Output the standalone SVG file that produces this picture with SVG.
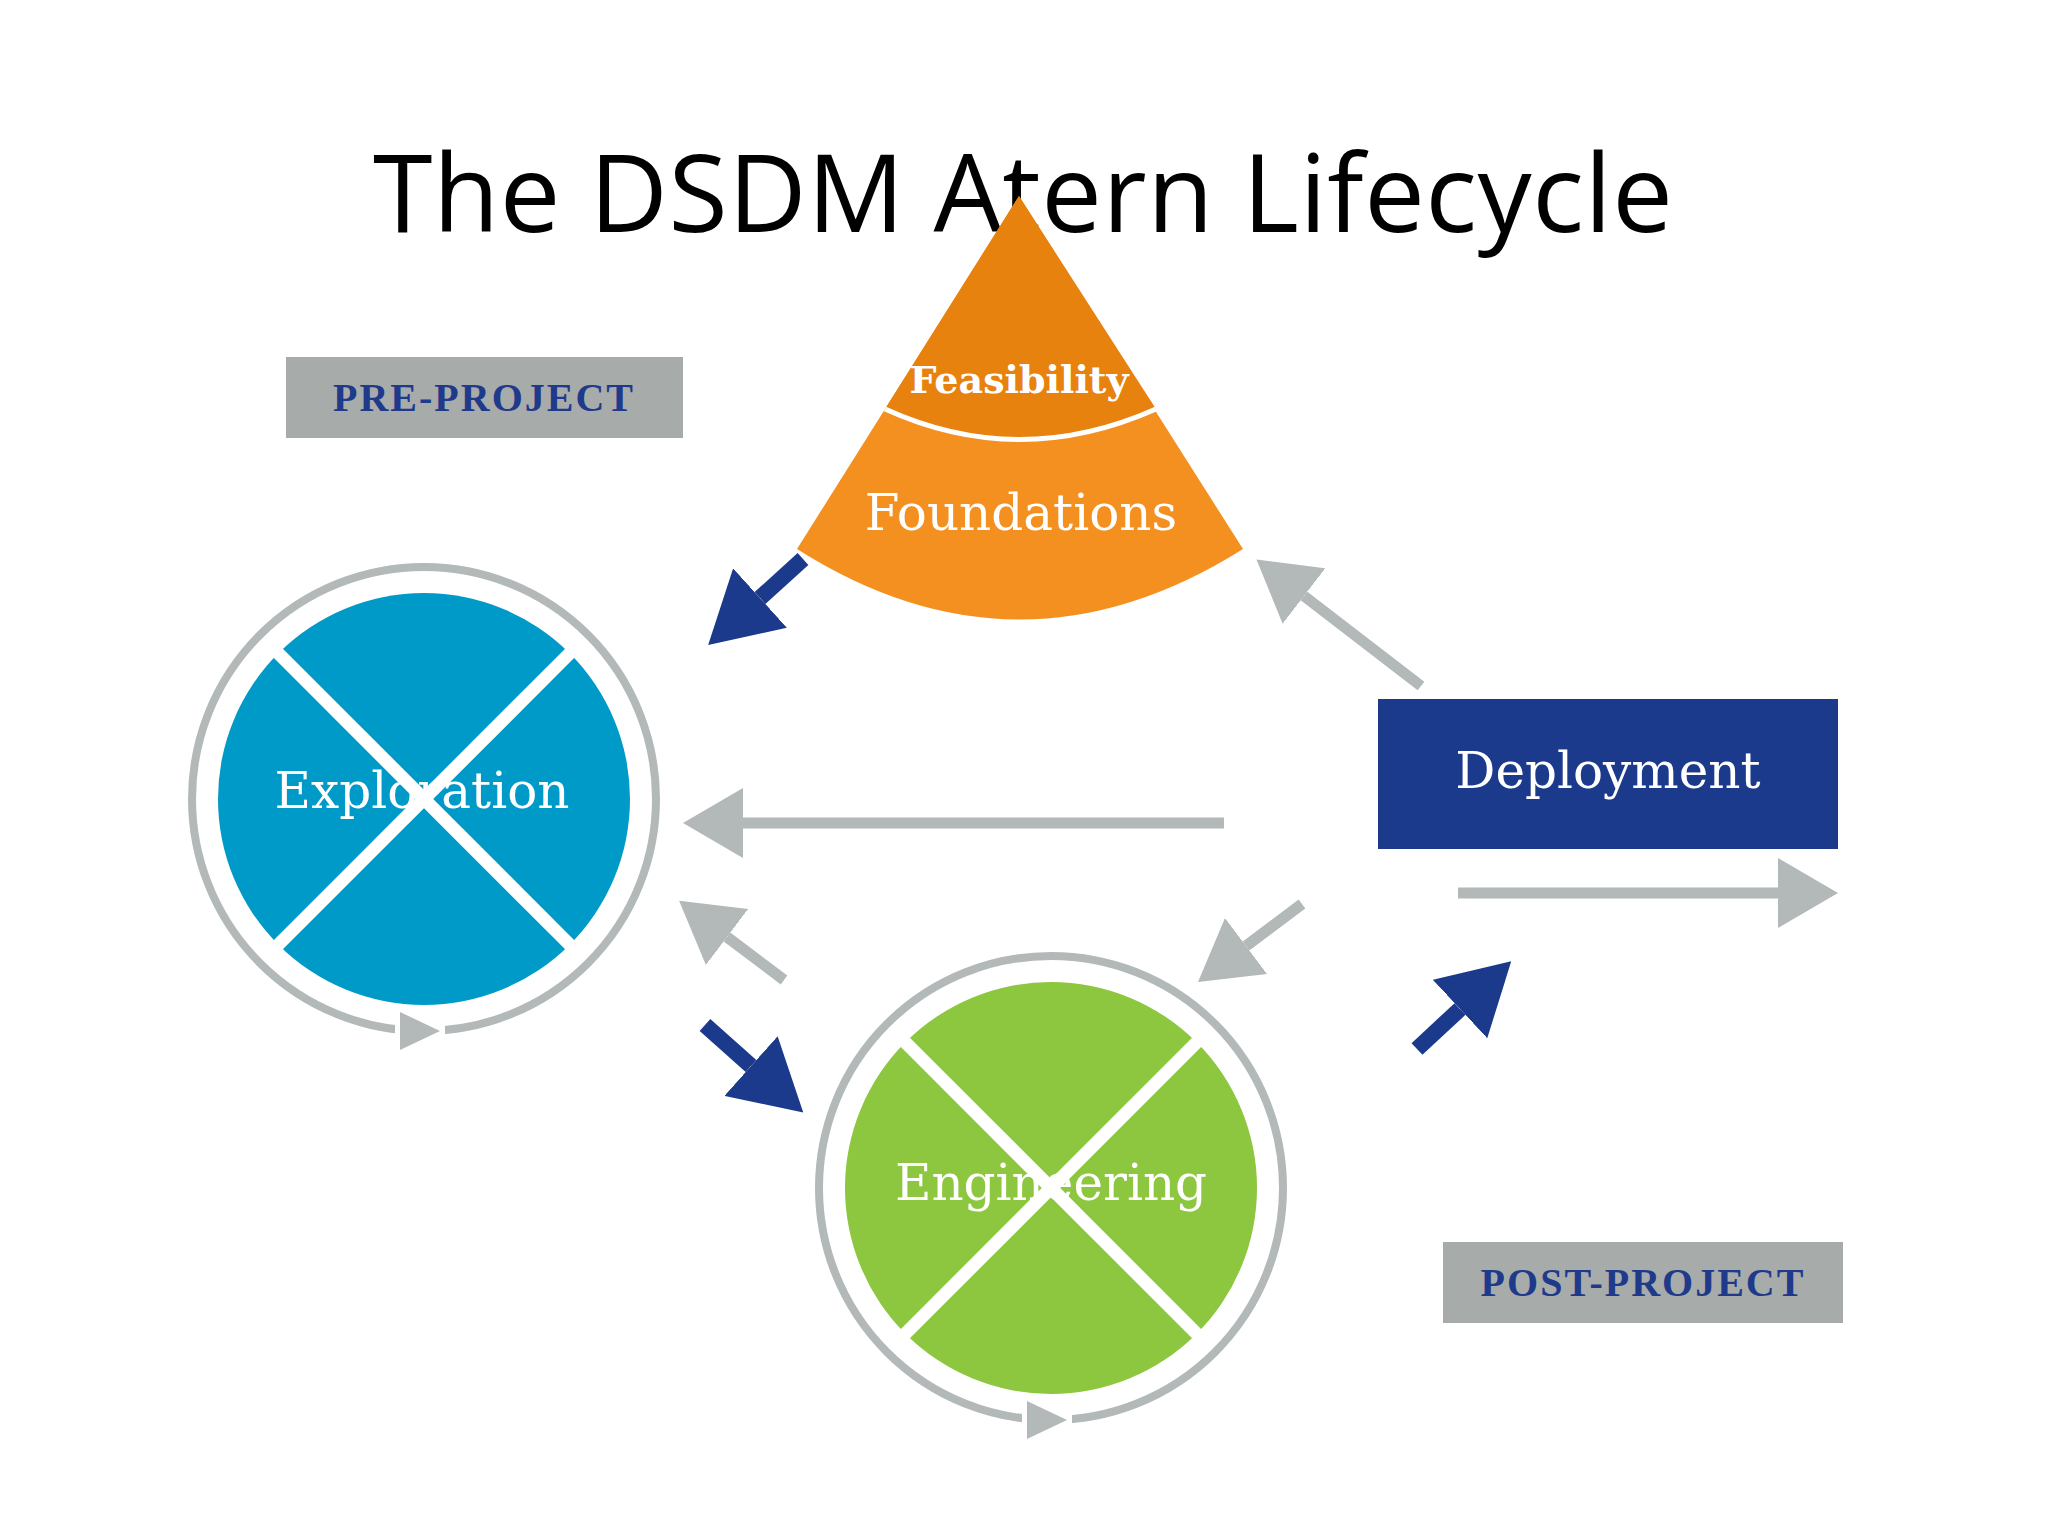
<svg xmlns="http://www.w3.org/2000/svg" width="2048" height="1536" viewBox="0 0 2048 1536">
<style>
.lbl{font-family:"DejaVu Serif",serif;fill:#fff;text-anchor:middle}
.tag{font-family:"Liberation Serif",serif;fill:#1f3a8a;font-weight:bold;text-anchor:middle;font-size:40px;letter-spacing:2px}
.ring{fill:none;stroke:#b3b8b8;stroke-width:8}
.cross{stroke:#fff;stroke-width:13}
.blue{stroke:#1b3a8c;stroke-width:16;fill:none}
.gray{stroke:#b3b8b8;stroke-width:11;fill:none}
</style>
<defs>
<marker id="hb" markerUnits="userSpaceOnUse" viewBox="0 0 70 80" refX="0" refY="40" markerWidth="70" markerHeight="80" orient="auto"><path d="M0,0 L70,40 L0,80 Z" fill="#1b3a8c"/></marker>
<marker id="hg" markerUnits="userSpaceOnUse" viewBox="0 0 60 70" refX="0" refY="35" markerWidth="60" markerHeight="70" orient="auto"><path d="M0,0 L60,35 L0,70 Z" fill="#b3b8b8"/></marker>
</defs>
<rect width="2048" height="1536" fill="#fff"/>
<g id="title"><text x="1023" y="232" font-family="Open Sans,sans-serif" font-size="108" text-anchor="middle" textLength="1300" fill="#000">The DSDM Atern Lifecycle</text></g>
<g id="pre"><rect x="286" y="357" width="397" height="81" fill="#a7acab"/><text class="tag" x="484" y="411">PRE-PROJECT</text></g>
<g id="post"><rect x="1443" y="1242" width="400" height="81" fill="#a7acab"/><text class="tag" x="1643" y="1296">POST-PROJECT</text></g>
<g id="foundations">
<path d="M1019,196 L1243,549 Q1019,690 797,549 Z" fill="#f39020"/>
<path d="M1019,196 L1156,409 Q1019,470 885,409 Z" fill="#e8820e"/>
<path d="M885,409 Q1019,470 1156,409" fill="none" stroke="#fff" stroke-width="5"/>
<text class="lbl" x="1019" y="393" font-size="38" font-weight="bold" font-family="Liberation Serif,serif">Feasibility</text>
<text class="lbl" x="1021" y="530" font-size="50">Foundations</text>
</g>
<g id="deployment"><rect x="1378" y="699" width="460" height="150" fill="#1b3a8c"/><text class="lbl" x="1608" y="788" font-size="50">Deployment</text></g>
<g id="exploration">
<circle class="ring" cx="424" cy="799" r="232"/>
<rect x="395" y="1020" width="50" height="20" fill="#fff"/>
<path d="M400,1012 L440,1031 L400,1050 Z" fill="#b3b8b8"/>
<circle cx="424" cy="799" r="206" fill="#009ac8"/>
<line class="cross" x1="274" y1="649" x2="574" y2="949"/><line class="cross" x1="574" y1="649" x2="274" y2="949"/>
<text class="lbl" x="422" y="808" font-size="50">Exploration</text>
</g>
<g id="engineering">
<circle class="ring" cx="1051" cy="1188" r="232"/>
<rect x="1022" y="1409" width="50" height="20" fill="#fff"/>
<path d="M1027,1401 L1067,1420 L1027,1439 Z" fill="#b3b8b8"/>
<circle cx="1051" cy="1188" r="206" fill="#8dc63f"/>
<line class="cross" x1="901" y1="1038" x2="1201" y2="1338"/><line class="cross" x1="1201" y1="1038" x2="901" y2="1338"/>
<text class="lbl" x="1051" y="1200" font-size="50">Engineering</text>
</g>
<g id="connectors">
<line class="blue" x1="803" y1="559" x2="760" y2="598" marker-end="url(#hb)"/>
<line class="gray" x1="1421" y1="686" x2="1304" y2="596" marker-end="url(#hg)"/>
<line class="gray" x1="1224" y1="823" x2="743" y2="823" marker-end="url(#hg)"/>
<line class="gray" x1="784" y1="980" x2="727" y2="937" marker-end="url(#hg)"/>
<line class="blue" x1="705" y1="1025" x2="751" y2="1066" marker-end="url(#hb)"/>
<line class="gray" x1="1302" y1="904" x2="1246" y2="946" marker-end="url(#hg)"/>
<line class="blue" x1="1417" y1="1049" x2="1460" y2="1009" marker-end="url(#hb)"/>
<line class="gray" x1="1458" y1="893" x2="1778" y2="893" marker-end="url(#hg)"/>
</g>
</svg>
